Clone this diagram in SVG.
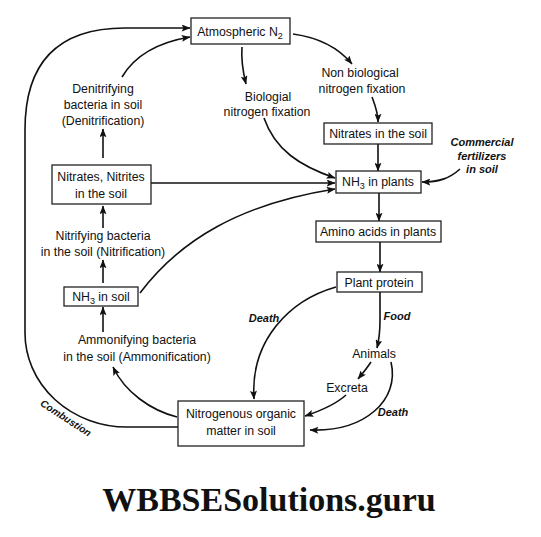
<svg xmlns="http://www.w3.org/2000/svg" width="541" height="537" viewBox="0 0 541 537">
<defs>
<marker id="ah" viewBox="0 0 10 8" markerWidth="9" markerHeight="7" refX="9.5" refY="4" orient="auto" markerUnits="userSpaceOnUse">
<path d="M0,0 L10,4 L0,8 L2,4 z" fill="#111"/>
</marker>
<style>
.box{fill:#fff;stroke:#222;stroke-width:1.3}
.t{font-family:"Liberation Sans",Arial,sans-serif;font-size:12.3px;fill:#111;text-anchor:middle}
.i{font-family:"Liberation Sans",Arial,sans-serif;font-size:11px;font-style:italic;font-weight:bold;fill:#111;text-anchor:middle}
.c{fill:none;stroke:#111;stroke-width:1.6}
.a{marker-end:url(#ah)}
.wm{font-family:"Liberation Serif","Times New Roman",serif;font-size:34px;font-weight:bold;fill:#111;text-anchor:middle}
</style>
</defs>
<rect width="541" height="537" fill="#fff"/>
<g id="connectors">
<path class="c a" d="M178,427 L127,427 A102,94 0 0 1 25,333 L25,130 C25,65 55,28 125,28 L190,28"/>
<path class="c a" d="M122,77 C135,55 160,42 190,37"/>
<path class="c a" d="M103,158 L103,129"/>
<path class="c a" d="M103,228 L103,206"/>
<path class="c a" d="M103,283 L103,260"/>
<path class="c a" d="M103,332 L103,307"/>
<path class="c a" d="M177,417 C150,410 125,392 113,367"/>
<path class="c a" d="M242,47 C241,60 243,72 246,84"/>
<path class="c a" d="M264,118 C275,150 300,166 335,178"/>
<path class="c a" d="M293,34 C315,37 337,46 352,64"/>
<path class="c a" d="M372,97 C375,105 378,112 378,122"/>
<path class="c a" d="M378,144 L378,171"/>
<path class="c a" d="M151,183 L335,183"/>
<path class="c a" d="M140,293 C180,240 240,204 335,189"/>
<path class="c a" d="M460,169 C450,178 440,182 422,182"/>
<path class="c a" d="M379,193 L379,221"/>
<path class="c a" d="M380,242 L380,272"/>
<path class="c a" d="M336,287 C290,300 250,340 254,399"/>
<path class="c a" d="M380,292 L380,320 C380,330 379,340 377,348"/>
<path class="c a" d="M371,362 C367,368 363,373 358,379"/>
<path class="c a" d="M346,395 C335,405 320,411 305,416"/>
<path class="c a" d="M391,362 C400,400 365,432 310,430"/>
</g>
<g id="atmospheric-n2">
<rect class="box" x="191" y="18" width="99" height="26"/>
<text class="t" x="240" y="36">Atmospheric N<tspan font-size="9" dy="3">2</tspan></text>
</g>
<g id="denitrifying">
<text class="t" x="103" y="93">Denitrifying</text>
<text class="t" x="103" y="109">bacteria in soil</text>
<text class="t" x="103" y="125">(Denitrification)</text>
</g>
<g id="biological-fixation">
<text class="t" x="268" y="101">Biologial</text>
<text class="t" x="267" y="116">nitrogen fixation</text>
</g>
<g id="non-biological-fixation">
<text class="t" x="360" y="77">Non biological</text>
<text class="t" x="362" y="93">nitrogen fixation</text>
</g>
<g id="nitrates-soil">
<rect class="box" x="324" y="123" width="108" height="21"/>
<text class="t" x="378" y="138">Nitrates in the soil</text>
</g>
<g id="commercial-fertilizers">
<text class="i" x="482" y="146">Commercial</text>
<text class="i" x="482" y="160">fertilizers</text>
<text class="i" x="482" y="173">in soil</text>
</g>
<g id="nh3-plants">
<rect class="box" x="336" y="171" width="85" height="22"/>
<text class="t" x="378" y="186">NH<tspan font-size="9" dy="3">3</tspan><tspan dy="-3"> in plants</tspan></text>
</g>
<g id="nitrates-nitrites">
<rect class="box" x="52" y="165" width="99" height="39"/>
<text class="t" x="101" y="181">Nitrates, Nitrites</text>
<text class="t" x="101" y="198">in the soil</text>
</g>
<g id="amino-acids">
<rect class="box" x="316" y="221" width="125" height="21"/>
<text class="t" x="378" y="236">Amino acids in plants</text>
</g>
<g id="nitrifying">
<text class="t" x="103" y="240">Nitrifying bacteria</text>
<text class="t" x="103" y="256">in the soil (Nitrification)</text>
</g>
<g id="plant-protein">
<rect class="box" x="337" y="272" width="85" height="20"/>
<text class="t" x="379" y="287">Plant protein</text>
</g>
<g id="nh3-soil">
<rect class="box" x="64" y="287" width="74" height="19"/>
<text class="t" x="101" y="301">NH<tspan font-size="9" dy="3">3</tspan><tspan dy="-3"> in soil</tspan></text>
</g>
<g id="ammonifying">
<text class="t" x="137" y="344">Ammonifying bacteria</text>
<text class="t" x="137" y="361">in the soil (Ammonification)</text>
</g>
<g id="labels">
<text class="i" x="264" y="322">Death</text>
<text class="i" x="397" y="320">Food</text>
<text class="i" x="393" y="416">Death</text>
<text class="i" style="font-size:10px" transform="translate(64,421) rotate(33)" x="0" y="0">Combustion</text>
</g>
<g id="animals">
<text class="t" x="374" y="358">Animals</text>
</g>
<g id="excreta">
<text class="t" x="347" y="392">Excreta</text>
</g>
<g id="nitrogenous-organic">
<rect class="box" x="178" y="401" width="126" height="45"/>
<text class="t" x="241" y="418">Nitrogenous organic</text>
<text class="t" x="241" y="435">matter in soil</text>
</g>
<text class="wm" x="269" y="511">WBBSESolutions.guru</text>
</svg>
